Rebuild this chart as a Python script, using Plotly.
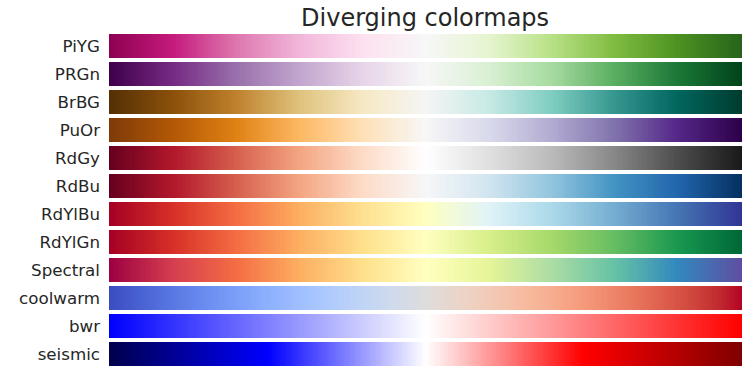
import numpy as np
import plotly.graph_objects as go

cmap_names = ["PiYG", "PRGn", "BrBG", "PuOr", "RdGy", "RdBu", "RdYlBu",
              "RdYlGn", "Spectral", "coolwarm", "bwr", "seismic"]
title_text = "Diverging colormaps"
gradient = [float(v) for v in np.linspace(0, 1, 256)]

brewer = {
    "PiYG": ["#8e0152", "#c51b7d", "#de77ae", "#f1b6da", "#fde0ef", "#f7f7f7",
             "#e6f5d0", "#b8e186", "#7fbc41", "#4d9221", "#276419"],
    "PRGn": ["#40004b", "#762a83", "#9970ab", "#c2a5cf", "#e7d4e8", "#f7f7f7",
             "#d9f0d3", "#a6dba0", "#5aae61", "#1b7837", "#00441b"],
    "BrBG": ["#543005", "#8c510a", "#bf812d", "#dfc27d", "#f6e8c3", "#f5f5f5",
             "#c7eae5", "#80cdc1", "#35978f", "#01665e", "#003c30"],
    "PuOr": ["#7f3b08", "#b35806", "#e08214", "#fdb863", "#fee0b6", "#f7f7f7",
             "#d8daeb", "#b2abd2", "#8073ac", "#542788", "#2d004b"],
    "RdGy": ["#67001f", "#b2182b", "#d6604d", "#f4a582", "#fddbc7", "#ffffff",
             "#e0e0e0", "#bababa", "#878787", "#4d4d4d", "#1a1a1a"],
    "RdBu": ["#67001f", "#b2182b", "#d6604d", "#f4a582", "#fddbc7", "#f7f7f7",
             "#d1e5f0", "#92c5de", "#4393c3", "#2166ac", "#053061"],
    "RdYlBu": ["#a50026", "#d73027", "#f46d43", "#fdae61", "#fee090", "#ffffbf",
               "#e0f3f8", "#abd9e9", "#74add1", "#4575b4", "#313695"],
    "RdYlGn": ["#a50026", "#d73027", "#f46d43", "#fdae61", "#fee08b", "#ffffbf",
               "#d9ef8b", "#a6d96a", "#66bd63", "#1a9850", "#006837"],
    "Spectral": ["#9e0142", "#d53e4f", "#f46d43", "#fdae61", "#fee08b", "#ffffbf",
                 "#e6f598", "#abdda4", "#66c2a5", "#3288bd", "#5e4fa2"],
}

coolwarm_rgb = [
    (0.2298057, 0.298717966, 0.753683153), (0.26623388, 0.353094838, 0.801466763),
    (0.30386891, 0.406535296, 0.84495867), (0.342804478, 0.458757618, 0.883725899),
    (0.38301334, 0.50941904, 0.917387822), (0.424369608, 0.558148092, 0.945619588),
    (0.46666708, 0.604562568, 0.968154911), (0.509635204, 0.648280772, 0.98478814),
    (0.552953156, 0.688929332, 0.995375608), (0.596262162, 0.726149107, 0.999836203),
    (0.639176211, 0.759599947, 0.998151185), (0.681291281, 0.788964712, 0.990363227),
    (0.722193294, 0.813952739, 0.976574709), (0.761464949, 0.834302879, 0.956945269),
    (0.798691636, 0.849786142, 0.931688648), (0.833466556, 0.860207984, 0.901068838),
    (0.865395197, 0.86541021, 0.865395561), (0.897787179, 0.848937047, 0.820880546),
    (0.924127593, 0.827384882, 0.774508472), (0.944468518, 0.800927443, 0.726736146),
    (0.958852946, 0.769767752, 0.678007945), (0.96732803, 0.734132809, 0.628751763),
    (0.969954137, 0.694266682, 0.579375448), (0.966811177, 0.650421156, 0.530263762),
    (0.958003065, 0.602842431, 0.481775914), (0.943660866, 0.551750968, 0.434243684),
    (0.923944917, 0.49730856, 0.387970225), (0.89904617, 0.439559467, 0.343229596),
    (0.869186849, 0.378313092, 0.300267182), (0.834620542, 0.312874446, 0.259301199),
    (0.795631745, 0.24128379, 0.220525627), (0.752534934, 0.157246067, 0.184115123),
    (0.705673158, 0.01555616, 0.150232812),
]


def rgb_str(c):
    return "rgb(%d,%d,%d)" % tuple(int(round(v * 255)) for v in c)


def even_scale(cols):
    n = len(cols)
    return [[i / (n - 1), c] for i, c in enumerate(cols)]


scales = {k: even_scale(v) for k, v in brewer.items()}
scales["coolwarm"] = even_scale([rgb_str(c) for c in coolwarm_rgb])
scales["bwr"] = [[0, "rgb(0,0,255)"], [0.5, "rgb(255,255,255)"], [1, "rgb(255,0,0)"]]
scales["seismic"] = [[0, "rgb(0,0,77)"], [0.25, "rgb(0,0,255)"], [0.5, "rgb(255,255,255)"],
                     [0.75, "rgb(255,0,0)"], [1, "rgb(128,0,0)"]]

fig = go.Figure()
for i, name in enumerate(cmap_names):
    fig.add_trace(go.Heatmap(
        z=[gradient], x0=0, dx=1, y0=i, dy=1,
        colorscale=scales[name], zmin=0, zmax=1, showscale=False,
        ygap=4, hoverinfo="skip", name=name,
    ))

fig.update_layout(
    width=749, height=375,
    margin=dict(l=109, r=7, t=32, b=7),
    paper_bgcolor="white", plot_bgcolor="white",
    font=dict(family="DejaVu Sans", color="#262626"),
    title=dict(text=title_text, x=0.5675, xanchor="center",
               y=1 - 17.5 / 375, yanchor="middle", yref="container",
               font=dict(size=24, color="#262626")),
    xaxis=dict(visible=False, range=[-0.5, len(gradient) - 0.5]),
    yaxis=dict(range=[len(cmap_names) - 0.5, -0.5],
               tickmode="array", tickvals=list(range(len(cmap_names))),
               ticktext=cmap_names,
               showgrid=False, zeroline=False, ticks="",
               ticklabelstandoff=8, tickfont=dict(size=16.7, color="#262626"),
               showline=False),
)

fig.write_html("out.html")
